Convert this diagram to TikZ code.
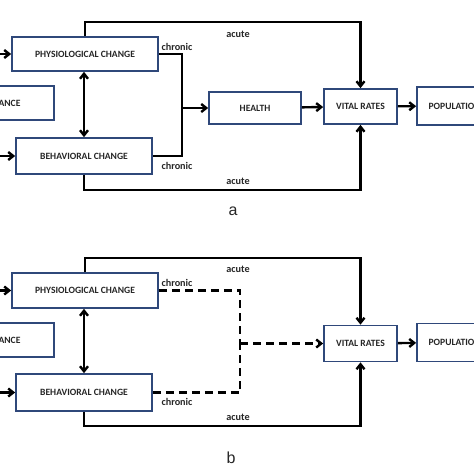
\documentclass[tikz,border=0pt]{standalone}
\usepackage{fontspec}
\setmainfont{Carlito}
\newfontfamily\panelfont{Liberation Sans}
\usepackage{xcolor}
\usetikzlibrary{arrows.meta}
\definecolor{BoxBlue}{RGB}{47,72,122}
\definecolor{TextGrey}{RGB}{38,38,38}

\begin{document}
\begin{tikzpicture}[x=1pt,y=-1pt,
  box/.style={draw=BoxBlue, line width=1.7pt, fill=white, text=TextGrey,
    font=\fontsize{9.6}{10}\selectfont\bfseries, inner sep=0pt},
  conn/.style={line width=2.4pt, black},
  arr/.style={conn, -{Straight Barb[length=5pt,width=8pt]}},
  dblarr/.style={conn, {Straight Barb[length=5pt,width=8pt]}-{Straight Barb[length=5pt,width=8pt]}},
  chronicline/.style={dash pattern=on 8pt off 5pt},
  lab/.style={font=\fontsize{10.2}{11}\selectfont\bfseries, text=TextGrey, inner sep=0pt},
  panel/.style={font=\panelfont\fontsize{16}{18}\selectfont, text=TextGrey, inner sep=0pt}]
  %
  \useasboundingbox (0,0) rectangle (474,474);
  \clip (0,0) rectangle (474,474);
  %
  % PANEL A
  \node[box, minimum width=146, minimum height=34] (physA) at (85,54) {PHYSIOLOGICAL CHANGE};
  \node[box, minimum width=89, minimum height=34] (distA) at (9.5,103) {ANCE};
  \node[box, minimum width=136, minimum height=36] (behavA) at (84,156) {BEHAVIORAL CHANGE};
  \node[box, minimum width=92, minimum height=32] (healthA) at (255,108) {HEALTH};
  \node[box, minimum width=73, minimum height=35] (vitalA) at (360.5,106.5) {VITAL RATES};
  \node[box, minimum width=69, minimum height=38] (popA) at (451.5,106) {POPULATIO};
  \coordinate (inA1) at (-5,54);
  \coordinate (inA2) at (-5,156);
  \coordinate (jA) at (182,108);
  %
  \draw[arr] (inA1) -- (physA);
  \draw[arr] (inA2) -- (behavA);
  \draw[dblarr] (behavA.north |- physA.south) -- (behavA.north);
  \draw[conn] (physA.east) -| (jA);
  \draw[conn] (behavA.east) -| (jA);
  \draw[arr] (jA) -- (healthA);
  \draw[arr] (healthA) -- (vitalA);
  \draw[arr] (vitalA) -- (popA);
  \draw[arr] (physA.north) -- ++(0,-14) -| (vitalA.north);
  \draw[arr] (behavA.south) -- ++(0,15) -| (vitalA.south);
  %
  \node[lab] (chrA1) at (177,47) {chronic};
  \node[lab] (chrA2) at (177,166) {chronic};
  \node[lab] (acuA1) at (238,34) {acute};
  \node[lab] (acuA2) at (238,181) {acute};
  \node[panel] (panA) at (233,211) {a};
  %
  % PANEL B
  \node[box, minimum width=146, minimum height=35] (physB) at (85,290.5) {PHYSIOLOGICAL CHANGE};
  \node[box, minimum width=89, minimum height=34] (distB) at (9.5,340) {ANCE};
  \node[box, minimum width=136, minimum height=37] (behavB) at (84,392.5) {BEHAVIORAL CHANGE};
  \node[box, minimum width=73, minimum height=36] (vitalB) at (360.5,343.5) {VITAL RATES};
  \node[box, minimum width=69, minimum height=38] (popB) at (451.5,342.5) {POPULATIO};
  \coordinate (inB1) at (-5,290.5);
  \coordinate (inB2) at (-5,392.5);
  \coordinate (jB) at (240,343.5);
  %
  \draw[arr] (inB1) -- (physB);
  \draw[arr] (inB2) -- (behavB);
  \draw[dblarr] (behavB.north |- physB.south) -- (behavB.north);
  \draw[conn, chronicline] (physB.east) -| (jB);
  \draw[conn, chronicline] (behavB.east) -| (jB);
  \draw[arr, chronicline] (jB) -- (vitalB);
  \draw[arr] (vitalB) -- (popB);
  \draw[arr] (physB.north) -- ++(0,-14) -| (vitalB.north);
  \draw[arr] (behavB.south) -- ++(0,14) -| (vitalB.south);
  %
  \node[lab] (chrB1) at (177,283) {chronic};
  \node[lab] (chrB2) at (177,402) {chronic};
  \node[lab] (acuB1) at (238,269) {acute};
  \node[lab] (acuB2) at (238,417) {acute};
  \node[panel] (panB) at (231,458) {b};
  %
\end{tikzpicture}
\end{document}
